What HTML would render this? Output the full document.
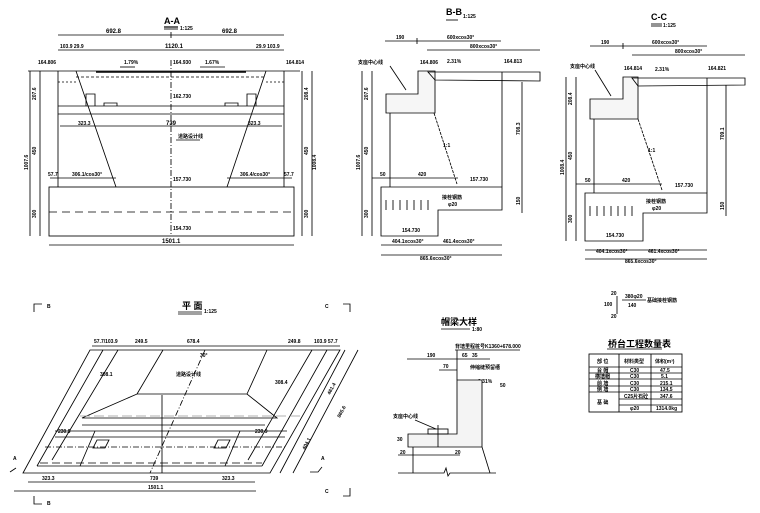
<!DOCTYPE html>
<html><head><meta charset="utf-8"><style>
html,body{margin:0;padding:0;background:#fff}
svg{display:block}
text{font-family:"Liberation Sans","Noto Sans CJK SC",sans-serif;fill:#000}
.t{font-size:6px;font-weight:bold}
.s{font-size:5px;font-weight:bold}
.h{font-size:9px;font-weight:bold}
</style></head><body>
<svg width="760" height="513" viewBox="0 0 760 513" xmlns="http://www.w3.org/2000/svg" fill="none" stroke="#000" stroke-width="0.85">
<!-- ===== A-A ===== -->
<g>
<text class="h" x="164" y="24" stroke="none">A-A</text>
<line x1="164" y1="27" x2="178" y2="27" stroke-width="1.2"/><line x1="164" y1="29" x2="178" y2="29"/>
<text class="s" x="180" y="30" stroke="none">1:125</text>
<line x1="58" y1="35" x2="284" y2="35"/><line x1="171" y1="32" x2="171" y2="38"/>
<text class="t" x="106" y="33" stroke="none">692.8</text><text class="t" x="222" y="33" stroke="none">692.8</text>
<line x1="58" y1="50" x2="284" y2="50"/>
<text class="s" x="60" y="48" stroke="none">103.9 29.9</text><text class="t" x="165" y="48" stroke="none">1120.1</text><text class="s" x="256" y="48" stroke="none">29.9 103.9</text>
<text class="s" x="38" y="64" stroke="none">164.806</text><text class="s" x="173" y="64" stroke="none">164.930</text><text class="s" x="286" y="64" stroke="none">164.814</text>
<text class="s" x="124" y="64" stroke="none">1.79%</text><text class="s" x="205" y="64" stroke="none">1.67%</text>
<line x1="120" y1="67" x2="135" y2="67"/><line x1="200" y1="67" x2="225" y2="67"/>
<line x1="28" y1="71" x2="300" y2="71"/>
<line x1="96" y1="72" x2="246" y2="72" stroke-width="1.5"/>
<line x1="76" y1="77" x2="266" y2="77" stroke-dasharray="3,2"/>
<line x1="58" y1="71" x2="58" y2="187"/><line x1="284" y1="71" x2="284" y2="187"/>
<line x1="58" y1="106" x2="284" y2="106"/><line x1="58" y1="114" x2="284" y2="114"/>
<path d="M86,106 V94 H95 V106 M104,106 V103 H117 V106 M225,106 V103 H238 V106 M247,106 V94 H256 V106"/>
<line x1="76" y1="71" x2="116" y2="187"/><line x1="266" y1="71" x2="227" y2="187"/>
<line x1="58" y1="82" x2="76" y2="82" stroke-dasharray="2,2"/><line x1="266" y1="82" x2="284" y2="82" stroke-dasharray="2,2"/>
<line x1="60" y1="126" x2="282" y2="126"/>
<text class="s" x="78" y="125" stroke="none">323.3</text><text class="t" x="166" y="125" stroke="none">739</text><text class="s" x="248" y="125" stroke="none">323.3</text>
<text class="s" x="173" y="98" stroke="none">162.730</text>
<text class="s" x="178" y="138" stroke="none">道路设计线</text>
<line x1="176" y1="140" x2="200" y2="140"/>
<line x1="50" y1="178" x2="116" y2="178"/><line x1="227" y1="178" x2="292" y2="178"/>
<text class="s" x="72" y="176" stroke="none">306.1/cos30°</text><text class="s" x="240" y="176" stroke="none">306.4/cos30°</text>
<text class="s" x="48" y="176" stroke="none">57.7</text><text class="s" x="284" y="176" stroke="none">57.7</text>
<text class="s" x="173" y="181" stroke="none">157.730</text>
<rect x="49" y="187" width="245" height="49"/>
<line x1="49" y1="212" x2="294" y2="212" stroke-dasharray="8,5"/>
<line x1="171" y1="60" x2="171" y2="236" stroke-dasharray="6,2,1,2"/>
<text class="s" x="173" y="230" stroke="none">154.730</text>
<line x1="49" y1="245" x2="294" y2="245"/>
<text class="t" x="162" y="243" stroke="none">1501.1</text>
<line x1="30" y1="71" x2="30" y2="236"/><line x1="40" y1="71" x2="40" y2="236"/>
<line x1="302" y1="71" x2="302" y2="236"/><line x1="312" y1="71" x2="312" y2="236"/>
<text class="s" transform="translate(36,100) rotate(-90)" stroke="none">207.6</text>
<text class="s" transform="translate(36,155) rotate(-90)" stroke="none">450</text>
<text class="s" transform="translate(36,218) rotate(-90)" stroke="none">300</text>
<text class="s" transform="translate(28,170) rotate(-90)" stroke="none">1007.6</text>
<text class="s" transform="translate(308,100) rotate(-90)" stroke="none">208.4</text>
<text class="s" transform="translate(308,155) rotate(-90)" stroke="none">450</text>
<text class="s" transform="translate(308,218) rotate(-90)" stroke="none">300</text>
<text class="s" transform="translate(316,170) rotate(-90)" stroke="none">1008.4</text>
</g>
<!-- ===== B-B ===== -->
<g>
<text class="h" x="446" y="15" stroke="none">B-B</text><text class="s" x="463" y="18" stroke="none">1:125</text>
<line x1="446" y1="20" x2="458" y2="20"/>
<line x1="385" y1="41" x2="501" y2="41"/><line x1="417" y1="38" x2="417" y2="44"/>
<text class="s" x="396" y="39" stroke="none">190</text><text class="s" x="447" y="39" stroke="none">600xcos30°</text>
<line x1="427" y1="50" x2="540" y2="50"/><text class="s" x="470" y="48" stroke="none">800xcos30°</text>
<text class="s" x="358" y="64" stroke="none">支座中心线</text>
<line x1="390" y1="66" x2="406" y2="90"/>
<text class="s" x="420" y="64" stroke="none">164.806</text><text class="s" x="447" y="63" stroke="none">2.31%</text><text class="s" x="504" y="63" stroke="none">164.813</text>
<path d="M386,94 H418 V71 H435 V113 H386 Z" fill="#f6f6f6"/>
<path d="M428,72 H540 V81 L435,80 Z"/>
<line x1="390" y1="113" x2="390" y2="187"/><line x1="502" y1="72" x2="502" y2="187"/>
<line x1="434" y1="113" x2="457" y2="184" stroke-dasharray="3,1"/>
<text class="s" x="443" y="147" stroke="none">1:1</text>
<line x1="372" y1="178" x2="458" y2="178"/>
<text class="s" x="380" y="176" stroke="none">50</text><text class="s" x="418" y="176" stroke="none">420</text>
<text class="s" x="470" y="181" stroke="none">157.730</text>
<path d="M381,187 H502 V210 H438 V236 H381 Z"/>
<path d="M386,200 v10 M393,200 v10 M400,200 v10 M407,200 v10 M414,200 v10 M421,200 v10 M428,200 v10"/>
<text class="s" x="442" y="199" stroke="none">接茬钢筋</text><text class="s" x="448" y="206" stroke="none">φ20</text>
<text class="s" x="402" y="232" stroke="none">154.730</text>
<line x1="381" y1="245" x2="502" y2="245"/><line x1="381" y1="255" x2="502" y2="255"/>
<text class="s" x="392" y="243" stroke="none">404.1xcos30°</text><text class="s" x="443" y="243" stroke="none">461.4xcos30°</text>
<text class="s" x="420" y="260" stroke="none">865.6xcos30°</text>
<line x1="362" y1="71" x2="362" y2="236"/><line x1="372" y1="71" x2="372" y2="236"/>
<text class="s" transform="translate(368,100) rotate(-90)" stroke="none">207.6</text>
<text class="s" transform="translate(368,155) rotate(-90)" stroke="none">450</text>
<text class="s" transform="translate(368,218) rotate(-90)" stroke="none">300</text>
<text class="s" transform="translate(360,170) rotate(-90)" stroke="none">1007.6</text>
<line x1="522" y1="82" x2="522" y2="213"/>
<text class="s" transform="translate(520,135) rotate(-90)" stroke="none">708.3</text>
<text class="s" transform="translate(520,205) rotate(-90)" stroke="none">150</text>
</g>
<!-- ===== C-C ===== -->
<g>
<text class="h" x="651" y="20" stroke="none">C-C</text><text class="s" x="663" y="27" stroke="none">1:125</text>
<line x1="651" y1="24" x2="662" y2="24"/><line x1="651" y1="26" x2="662" y2="26"/>
<line x1="590" y1="46" x2="707" y2="46"/><line x1="623" y1="43" x2="623" y2="49"/>
<text class="s" x="601" y="44" stroke="none">190</text><text class="s" x="652" y="44" stroke="none">600xcos30°</text>
<line x1="632" y1="55" x2="745" y2="55"/><text class="s" x="675" y="53" stroke="none">800xcos30°</text>
<text class="s" x="570" y="68" stroke="none">支座中心线</text>
<line x1="595" y1="70" x2="611" y2="96"/>
<text class="s" x="624" y="70" stroke="none">164.814</text><text class="s" x="655" y="71" stroke="none">2.31%</text><text class="s" x="708" y="70" stroke="none">164.821</text>
<path d="M590,99 H623 V77 H638 V119 H590 Z" fill="#f6f6f6"/>
<path d="M632,78 H745 V85 L638,86 Z"/>
<line x1="594" y1="119" x2="594" y2="193"/><line x1="707" y1="78" x2="707" y2="193"/>
<line x1="638" y1="119" x2="662" y2="190" stroke-dasharray="3,1"/>
<text class="s" x="648" y="152" stroke="none">1:1</text>
<line x1="576" y1="184" x2="662" y2="184"/>
<text class="s" x="585" y="182" stroke="none">50</text><text class="s" x="622" y="182" stroke="none">420</text>
<text class="s" x="675" y="187" stroke="none">157.730</text>
<path d="M585,193 H707 V213 H643 V241 H585 Z"/>
<path d="M590,206 v10 M597,206 v10 M604,206 v10 M611,206 v10 M618,206 v10 M625,206 v10 M632,206 v10"/>
<text class="s" x="646" y="203" stroke="none">接茬钢筋</text><text class="s" x="652" y="210" stroke="none">φ20</text>
<text class="s" x="606" y="237" stroke="none">154.730</text>
<line x1="585" y1="250" x2="707" y2="250"/><line x1="585" y1="259" x2="707" y2="259"/>
<text class="s" x="596" y="253" stroke="none">404.1xcos30°</text><text class="s" x="648" y="253" stroke="none">461.4xcos30°</text>
<text class="s" x="625" y="263" stroke="none">865.6xcos30°</text>
<line x1="566" y1="77" x2="566" y2="241"/><line x1="576" y1="77" x2="576" y2="241"/>
<text class="s" transform="translate(572,105) rotate(-90)" stroke="none">208.4</text>
<text class="s" transform="translate(572,160) rotate(-90)" stroke="none">450</text>
<text class="s" transform="translate(572,223) rotate(-90)" stroke="none">300</text>
<text class="s" transform="translate(564,175) rotate(-90)" stroke="none">1008.4</text>
<line x1="726" y1="85" x2="726" y2="216"/>
<text class="s" transform="translate(724,140) rotate(-90)" stroke="none">709.1</text>
<text class="s" transform="translate(724,210) rotate(-90)" stroke="none">150</text>
</g>
<!-- ===== Plan ===== -->
<g>
<text class="h" x="182" y="309" stroke="none">平 面</text><text class="s" x="204" y="313" stroke="none">1:125</text>
<line x1="178" y1="312" x2="202" y2="312"/><line x1="178" y1="314" x2="202" y2="314"/>
<path d="M34,312 V304 H42"/><text class="s" x="47" y="308" stroke="none">B</text>
<path d="M34,496 V504 H42"/><text class="s" x="47" y="505" stroke="none">B</text>
<path d="M343,304 H350 V312"/><text class="s" x="325" y="308" stroke="none">C</text>
<path d="M343,496 H350 V488"/><text class="s" x="325" y="493" stroke="none">C</text>
<text class="s" x="13" y="460" stroke="none">A</text><path d="M10,472 L16,468"/>
<text class="s" x="321" y="460" stroke="none">A</text><path d="M310,472 H318 L322,467"/>
<path d="M90,350 H340 L270,473 H23 Z"/>
<path d="M103,350 L37,466 M118,350 L52,460"/>
<path d="M327,350 L262,466 M312,350 L248,460"/>
<path d="M137,394 H247 L277,418 H82 Z"/>
<path d="M137,394 L163,350 M247,394 L267,350"/>
<line x1="82" y1="425" x2="265" y2="425"/>
<line x1="55" y1="431" x2="287" y2="431"/><line x1="55" y1="437" x2="285" y2="437"/>
<line x1="37" y1="466" x2="262" y2="466"/>
<line x1="80" y1="416" x2="300" y2="416" stroke-dasharray="10,4" stroke="#999"/>
<line x1="40" y1="463" x2="262" y2="463" stroke-dasharray="8,4"/>
<line x1="45" y1="447" x2="285" y2="447" stroke-dasharray="6,2,1,2"/>
<path d="M95,431 L80,466 M240,431 L225,466"/>
<path d="M97,440 h12 l-4,8 h-12 Z M218,440 h12 l-4,8 h-12 Z"/>
<line x1="205" y1="350" x2="150" y2="473" stroke-dasharray="6,2,1,2"/>
<line x1="162" y1="395" x2="162" y2="473"/>
<text class="s" x="176" y="376" stroke="none">道路设计线</text>
<text class="s" x="200" y="357" stroke="none">30°</text>
<line x1="92" y1="346" x2="340" y2="346"/>
<text class="s" x="94" y="343" stroke="none">57.7/103.9</text><text class="s" x="135" y="343" stroke="none">249.5</text><text class="s" x="187" y="343" stroke="none">678.4</text><text class="s" x="288" y="343" stroke="none">249.8</text><text class="s" x="314" y="343" stroke="none">103.9 57.7</text>
<text class="s" x="100" y="376" stroke="none">308.1</text><text class="s" x="275" y="384" stroke="none">308.4</text>
<text class="s" x="58" y="433" stroke="none">230.9</text><text class="s" x="255" y="433" stroke="none">230.9</text>
<line x1="28" y1="482" x2="255" y2="482"/><line x1="14" y1="491" x2="256" y2="491"/>
<text class="s" x="42" y="480" stroke="none">323.3</text><text class="s" x="150" y="480" stroke="none">739</text><text class="s" x="222" y="480" stroke="none">323.3</text>
<text class="s" x="148" y="489" stroke="none">1501.1</text>
<path d="M345,350 L280,473 M358,350 L293,473"/>
<text class="s" transform="translate(330,395) rotate(-62)" stroke="none">461.4</text>
<text class="s" transform="translate(340,418) rotate(-62)" stroke="none">865.6</text>
<text class="s" transform="translate(305,450) rotate(-62)" stroke="none">404.1</text>
</g>
<!-- ===== Cap detail ===== -->
<g>
<text class="h" x="441" y="325" stroke="none">帽梁大样</text><text class="s" x="472" y="331" stroke="none">1:80</text>
<line x1="441" y1="329" x2="470" y2="329"/>
<text class="s" x="455" y="348" stroke="none">背墙里程桩号K1360+678.000</text>
<line x1="455" y1="350" x2="520" y2="350"/><line x1="457" y1="350" x2="457" y2="380"/>
<line x1="407" y1="359" x2="490" y2="359"/>
<text class="s" x="427" y="357" stroke="none">190</text><text class="s" x="462" y="357" stroke="none">65</text><text class="s" x="472" y="357" stroke="none">35</text>
<text class="s" x="443" y="368" stroke="none">70</text><line x1="439" y1="370" x2="457" y2="370"/>
<text class="s" x="470" y="369" stroke="none">伸缩缝预留槽</text>
<text class="s" x="478" y="383" stroke="none">2.31%</text>
<text class="s" x="500" y="387" stroke="none">50</text>
<path d="M457,380 H482 V447 H408 V434 H457 Z" fill="#f4f4f4"/>
<rect x="428" y="429" width="20" height="5"/>
<line x1="438" y1="425" x2="438" y2="447"/>
<text class="s" x="393" y="418" stroke="none">支座中心线</text>
<line x1="415" y1="420" x2="436" y2="429"/>
<text class="s" x="397" y="441" stroke="none">30</text>
<line x1="398" y1="455" x2="460" y2="455"/>
<text class="s" x="400" y="454" stroke="none">20</text><text class="s" x="455" y="454" stroke="none">20</text>
<line x1="413" y1="447" x2="413" y2="473"/><line x1="482" y1="447" x2="490" y2="473"/>
<path d="M398,473 H444 L446,468 L448,476 L450,473 H496"/>
</g>
<!-- ===== rebar note ===== -->
<g>
<text class="s" x="611" y="295" stroke="none">20</text><text class="s" x="604" y="306" stroke="none">100</text><text class="s" x="611" y="318" stroke="none">20</text>
<path d="M617,296 V314"/>
<line x1="622" y1="300" x2="646" y2="300"/>
<text class="s" x="625" y="298" stroke="none">380φ20</text><text class="s" x="628" y="307" stroke="none">140</text>
<text class="s" x="647" y="302" stroke="none">基础接茬钢筋</text>
</g>
<!-- ===== Table ===== -->
<g>
<text class="h" x="608" y="347" stroke="none">桥台工程数量表</text>
<line x1="607" y1="349" x2="662" y2="349"/>
<rect x="589" y="354" width="93" height="58"/>
<line x1="619" y1="354" x2="619" y2="412"/><line x1="651" y1="354" x2="651" y2="412"/>
<line x1="589" y1="367" x2="682" y2="367"/><line x1="589" y1="373" x2="682" y2="373"/><line x1="589" y1="379" x2="682" y2="379"/><line x1="589" y1="386" x2="682" y2="386"/><line x1="589" y1="392" x2="682" y2="392"/><line x1="619" y1="399" x2="682" y2="399"/><line x1="619" y1="405" x2="682" y2="405"/>
<text class="s" x="597" y="363" stroke="none">部 位</text><text class="s" x="624" y="363" stroke="none">材料类型</text><text class="s" x="655" y="363" stroke="none">体积(m³)</text>
<text class="s" x="597" y="372" stroke="none">台 帽</text><text class="s" x="630" y="372" stroke="none">C30</text><text class="s" x="660" y="372" stroke="none">47.5</text>
<text class="s" x="595" y="378" stroke="none">横墙帽</text><text class="s" x="630" y="378" stroke="none">C30</text><text class="s" x="661" y="378" stroke="none">5.1</text>
<text class="s" x="597" y="385" stroke="none">前 墙</text><text class="s" x="630" y="385" stroke="none">C30</text><text class="s" x="660" y="385" stroke="none">215.1</text>
<text class="s" x="597" y="391" stroke="none">侧 墙</text><text class="s" x="630" y="391" stroke="none">C30</text><text class="s" x="660" y="391" stroke="none">134.5</text>
<text class="s" x="597" y="404" stroke="none">基 础</text><text class="s" x="624" y="398" stroke="none">C25片石砼</text><text class="s" x="660" y="398" stroke="none">347.6</text>
<text class="s" x="630" y="410" stroke="none">φ20</text><text class="s" x="656" y="410" stroke="none">1314.0kg</text>
</g>
</svg>
</body></html>
